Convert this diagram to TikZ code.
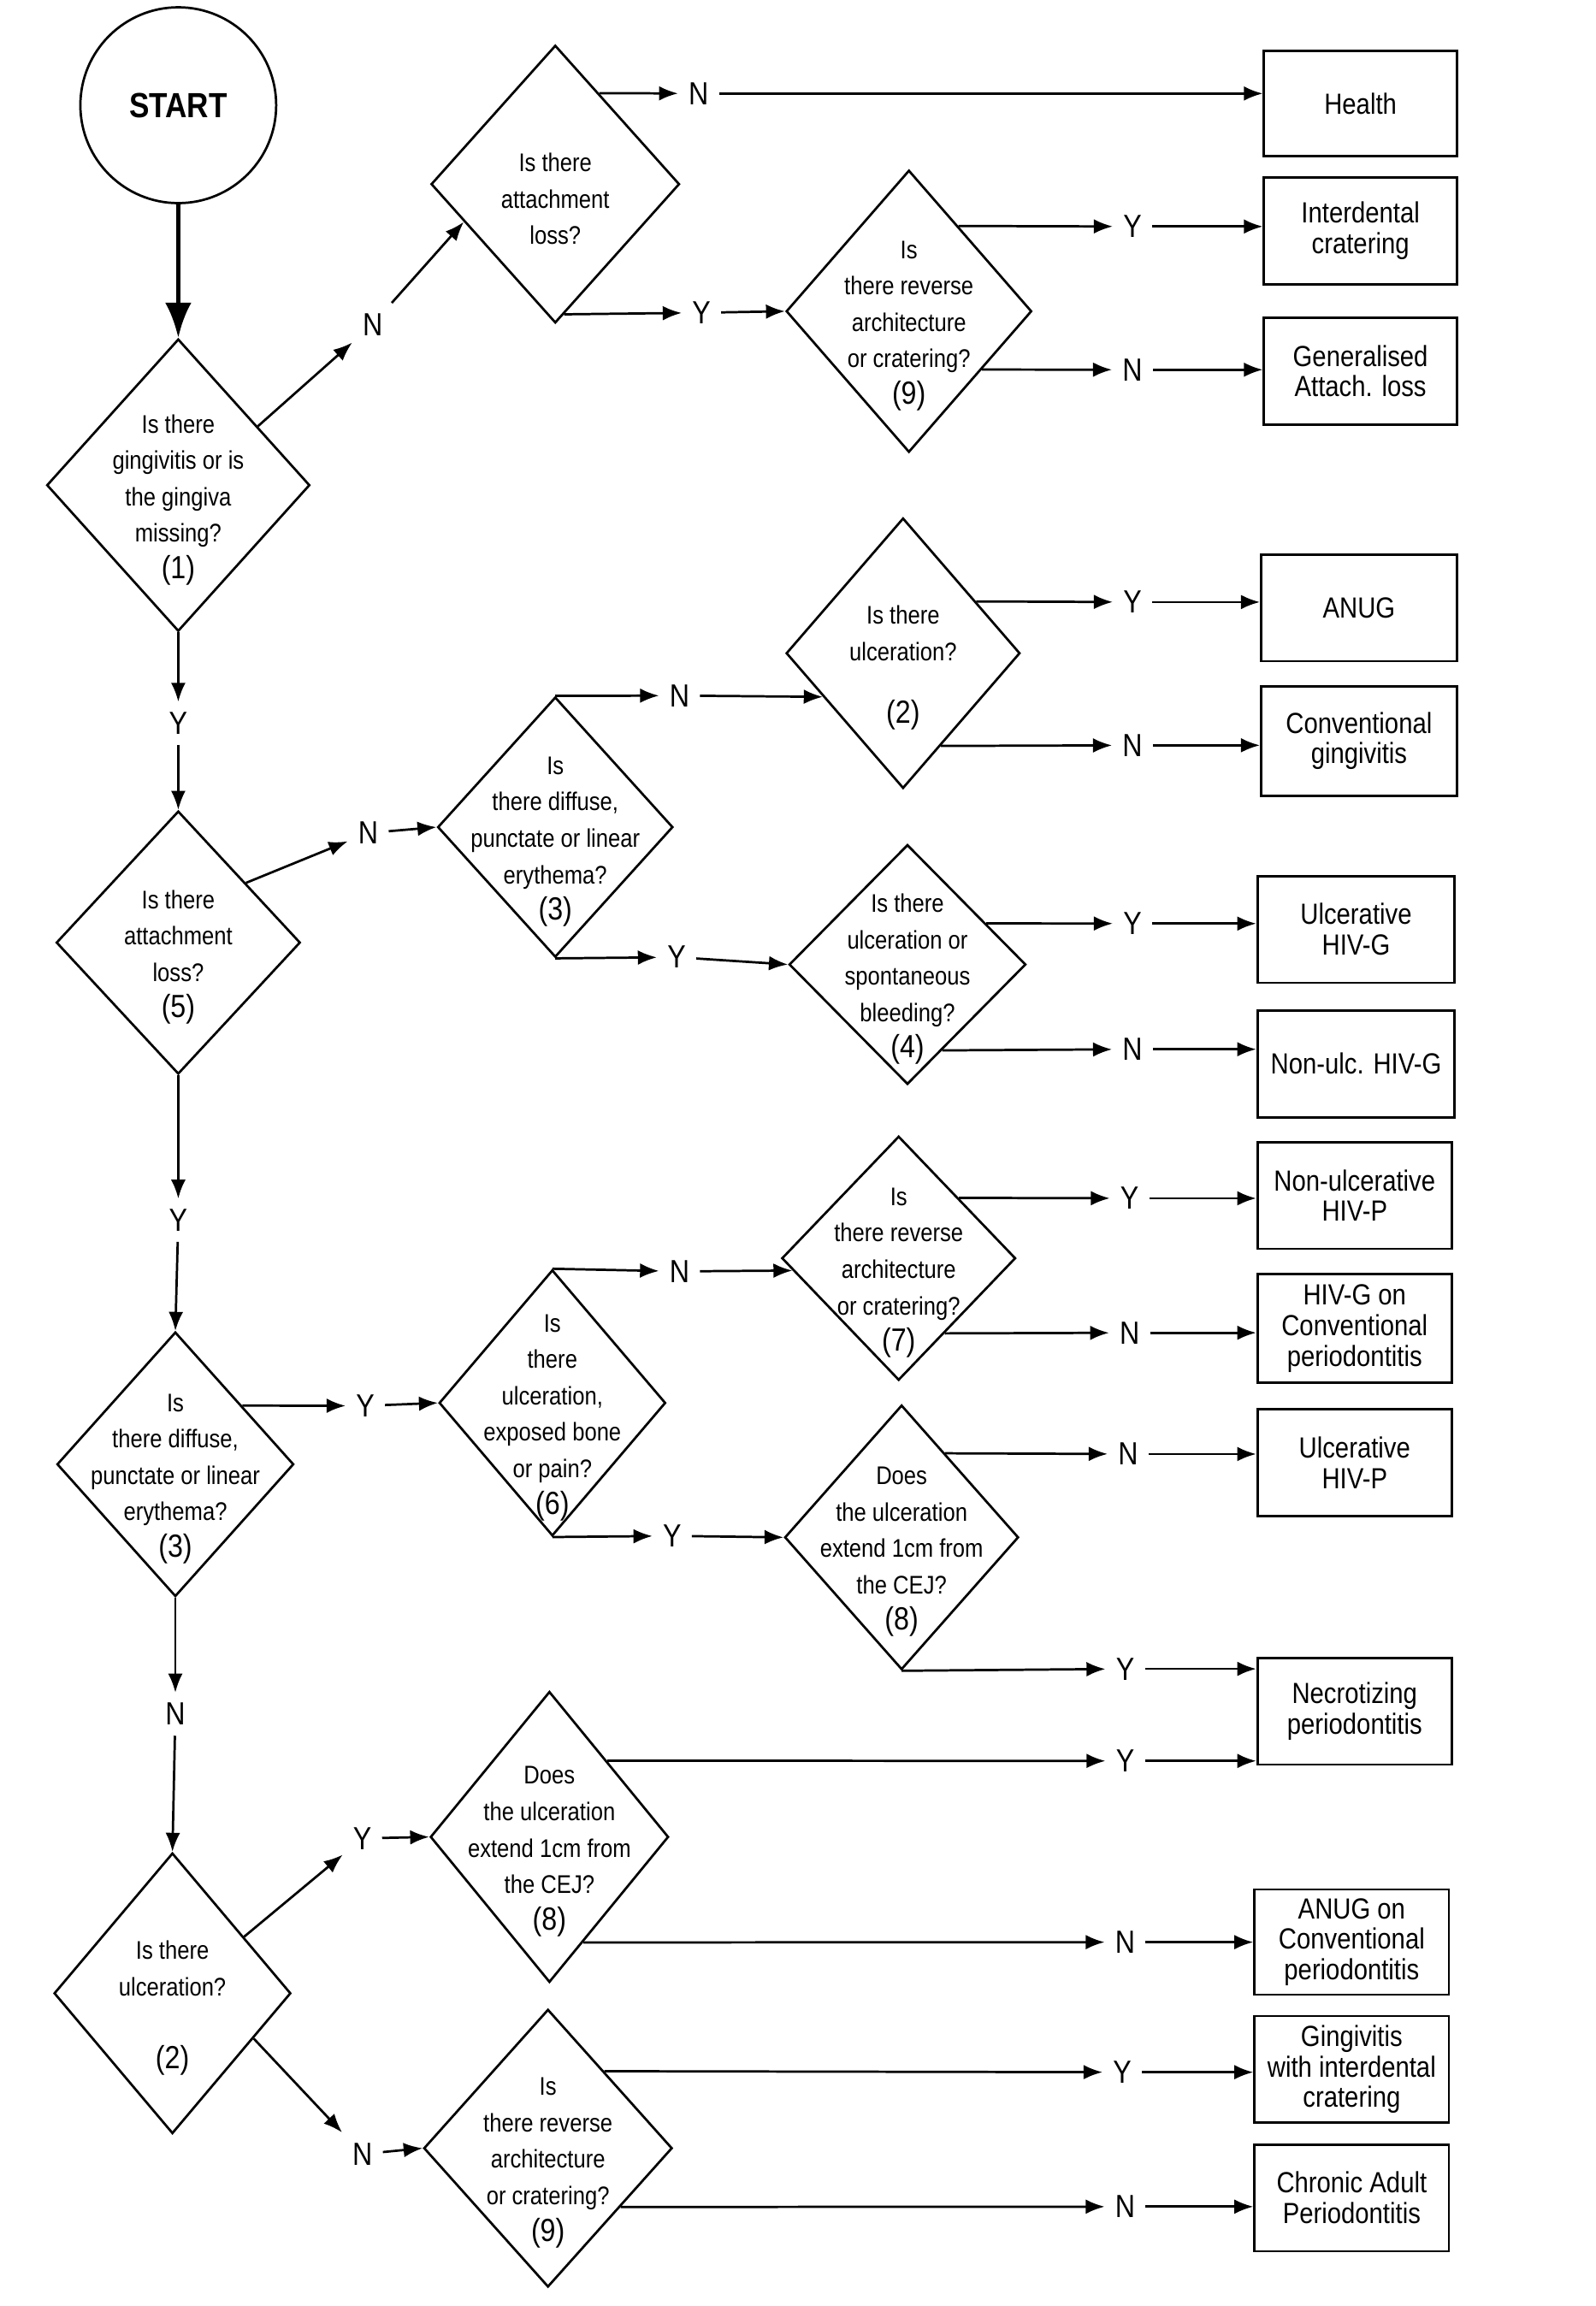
\documentclass[tikz,border=0pt]{standalone}
\usepackage{fontspec}
\setmainfont[FakeStretch=0.86]{Liberation Sans}
\usetikzlibrary{shapes.geometric,arrows.meta,calc}
\begin{document}
\begin{tikzpicture}[x=1bp,y=-1bp,
 dia/.style={draw,diamond,inner sep=0pt,line width=1.6bp},
 dt/.style={align=center,font=\fontsize{17.5}{25}\selectfont},
 box/.style={draw,rectangle,line width=1.6bp,align=center,inner sep=0pt,font=\fontsize{20}{21}\selectfont},
 lab/.style={font=\fontsize{22}{22}\selectfont,inner sep=7bp},
 arr/.style={-{Latex[length=13bp,width=10bp]},line width=1.6bp}]
\useasboundingbox (0,0) rectangle (1092,1578);
\newcommand\nb[1]{{\fontsize{22}{22}\selectfont(#1)}}
\newcommand\dw[5]{\node[dia,minimum width=#3bp,minimum height=#4bp] (#1) at #2 {};\node[dt] at ($(#1)+(0,10)$) {#5};}
\newcommand\bx[4]{\node[box,minimum width=#3bp,minimum height=#4bp] (#1) at #2 {};}
% start
\node[draw,circle,line width=1.6bp,minimum size=134bp,font=\fontsize{24}{24}\selectfont\bfseries] (start) at (122,72) {START};
% diamonds
\dw{d1}{(122,332)}{180}{200}{Is there\\gingivitis or is\\the gingiva\\missing?\\\nb{1}}
\dw{dtop}{(380,126)}{170}{190}{Is there\\attachment\\loss?}
\dw{d9a}{(622,213)}{168}{193}{Is\\there reverse\\architecture\\or cratering?\\\nb{9}}
\dw{d5}{(122,645)}{167}{180}{Is there\\attachment\\loss?\\\nb{5}}
\dw{d3a}{(380,566)}{161}{178}{Is\\there diffuse,\\punctate or linear\\erythema?\\\nb{3}}
\dw{d2a}{(618,447)}{160}{185}{Is there\\ulceration?\\[18bp]\nb{2}}
\dw{d4}{(621,660)}{162}{164}{Is there\\ulceration or\\spontaneous\\bleeding?\\\nb{4}}
\dw{d3b}{(120,1002)}{162}{181}{Is\\there diffuse,\\punctate or linear\\erythema?\\\nb{3}}
\dw{d6}{(378,960)}{155}{182}{Is\\there\\ulceration,\\exposed bone\\or pain?\\\nb{6}}
\dw{d7}{(615,861)}{160}{167}{Is\\there reverse\\architecture\\or cratering?\\\nb{7}}
\dw{d8a}{(617,1052)}{160}{181}{Does\\the ulceration\\extend 1cm from\\the CEJ?\\\nb{8}}
\dw{d2b}{(118,1364)}{162}{192}{Is there\\ulceration?\\[25bp]\nb{2}}
\dw{d8b}{(376,1257)}{163}{199}{Does\\the ulceration\\extend 1cm from\\the CEJ?\\\nb{8}}
\dw{d9b}{(375,1470)}{170}{190}{Is\\there reverse\\architecture\\or cratering?\\\nb{9}}
% boxes
\bx{health}{(931,71)}{132}{72}\node[box,draw=none] at (health) {Health};
\bx{crat}{(931,158)}{132}{73}\node[box,draw=none] at (crat) {Interdental\\cratering};
\bx{gen}{(931,254)}{132}{73}\node[box,draw=none] at (gen) {Generalised\\Attach. loss};
\bx{anug}{(930,416)}{134}{73}\node[box,draw=none] at (anug) {ANUG};
\bx{conv}{(930,507)}{134}{75}\node[box,draw=none] at (conv) {Conventional\\gingivitis};
\bx{uhivg}{(928,636)}{135}{73}\node[box,draw=none] at (uhivg) {Ulcerative\\HIV-G};
\bx{nonulc}{(928,728)}{135}{73}\node[box,draw=none] at (nonulc) {Non-ulc. HIV-G};
\bx{nuhivp}{(927,818)}{133}{73}\node[box,draw=none] at (nuhivp) {Non-ulcerative\\HIV-P};
\bx{hivgon}{(927,909)}{133}{74}\node[box,draw=none] at (hivgon) {HIV-G on\\Conventional\\periodontitis};
\bx{uhivp}{(927,1001)}{133}{73}\node[box,draw=none] at (uhivp) {Ulcerative\\HIV-P};
\bx{necro}{(927,1171)}{133}{73}\node[box,draw=none] at (necro) {Necrotizing\\periodontitis};
\bx{anugon}{(925,1329)}{133}{72}\node[box,draw=none] at (anugon) {ANUG on\\Conventional\\periodontitis};
\bx{gingcr}{(925,1416)}{133}{73}\node[box,draw=none] at (gingcr) {Gingivitis\\with interdental\\cratering};
\bx{chronic}{(925,1504)}{133}{73}\node[box,draw=none] at (chronic) {Chronic Adult\\Periodontitis};
% labels
\node[lab] (nA) at (255,222) {N};
\node[lab] (nT) at (478,64) {N};
\node[lab] (yT) at (480,214) {Y};
\node[lab] (y9a) at (775,155) {Y};
\node[lab] (n9a) at (775,253) {N};
\node[lab] (y1) at (122,495) {Y};
\node[lab] (n5) at (252,570) {N};
\node[lab] (n3a) at (465,476) {N};
\node[lab] (y3a) at (463,655) {Y};
\node[lab] (y2a) at (775,412) {Y};
\node[lab] (n2a) at (775,510) {N};
\node[lab] (y4) at (775,632) {Y};
\node[lab] (n4) at (775,718) {N};
\node[lab] (y5) at (122,835) {Y};
\node[lab] (y3b) at (250,962) {Y};
\node[lab] (n6) at (465,870) {N};
\node[lab] (y6) at (460,1051) {Y};
\node[lab] (y7) at (773,820) {Y};
\node[lab] (n7) at (773,912) {N};
\node[lab] (n8a) at (772,995) {N};
\node[lab] (y8a) at (770,1142) {Y};
\node[lab] (n3b) at (120,1173) {N};
\node[lab] (y2b) at (248,1258) {Y};
\node[lab] (n2b) at (248,1474) {N};
\node[lab] (y8b) at (770,1205) {Y};
\node[lab] (n8b) at (770,1329) {N};
\node[lab] (y9b) at (768,1418) {Y};
\node[lab] (n9b) at (770,1510) {N};
% connectors
\draw[line width=3.2bp,-{Latex[length=24bp,width=18bp]}] (start) -- (d1);
\draw[arr] ($(d1.north)!0.6!(d1.east)$) -- (nA);
\draw[arr] (nA) -- ($(dtop.west)!0.27!(dtop.south)$);
\draw[arr] ($(dtop.north)!0.35!(dtop.east)$) -- (nT);
\draw[arr] (nT) -- (health.west |- nT);
\draw[arr] ($(dtop.east)!0.93!(dtop.south)$) -- (yT);
\draw[arr] (yT) -- (d9a.west);
\draw[arr] ($(d9a.north)!0.40!(d9a.east)$) -- (y9a);
\draw[arr] (y9a) -- (crat.west |- y9a);
\draw[arr] ($(d9a.east)!0.41!(d9a.south)$) -- (n9a);
\draw[arr] (n9a) -- (gen.west |- n9a);
\draw[arr] (d1.south) -- (y1);
\draw[arr] (y1) -- (d5.north);
\draw[arr] ($(d5.north)!0.55!(d5.east)$) -- (n5);
\draw[arr] (n5) -- (d3a.west);
\draw[arr] (d3a.north) -- (n3a);
\draw[arr] (n3a) -- ($(d2a.west)!0.32!(d2a.south)$);
\draw[arr] (d3a.south) -- (y3a);
\draw[arr] (y3a) -- (d4.west);
\draw[arr] ($(d2a.north)!0.62!(d2a.east)$) -- (y2a);
\draw[arr] (y2a) -- (anug.west |- y2a);
\draw[arr] ($(d2a.east)!0.68!(d2a.south)$) -- (n2a);
\draw[arr] (n2a) -- (conv.west |- n2a);
\draw[arr] ($(d4.north)!0.66!(d4.east)$) -- (y4);
\draw[arr] (y4) -- (uhivg.west |- y4);
\draw[arr] ($(d4.east)!0.71!(d4.south)$) -- (n4);
\draw[arr] (n4) -- (nonulc.west |- n4);
\draw[arr] (d5.south) -- (y5);
\draw[arr] (y5) -- (d3b.north);
\draw[arr] ($(d3b.north)!0.56!(d3b.east)$) -- (y3b);
\draw[arr] (y3b) -- (d6.west);
\draw[arr] (d6.north) -- (n6);
\draw[arr] (n6) -- ($(d7.west)!0.1!(d7.south)$);
\draw[arr] (d6.south) -- (y6);
\draw[arr] (y6) -- (d8a.west);
\draw[arr] ($(d7.north)!0.51!(d7.east)$) -- (y7);
\draw[arr] (y7) -- (nuhivp.west |- y7);
\draw[arr] ($(d7.east)!0.61!(d7.south)$) -- (n7);
\draw[arr] (n7) -- (hivgon.west |- n7);
\draw[arr] ($(d8a.north)!0.37!(d8a.east)$) -- (n8a);
\draw[arr] (n8a) -- (uhivp.west |- n8a);
\draw[arr] (d8a.south) -- (y8a);
\draw[arr] (y8a) -- (necro.west |- y8a);
\draw[arr] (d3b.south) -- (n3b);
\draw[arr] (n3b) -- (d2b.north);
\draw[arr] ($(d2b.north)!0.6!(d2b.east)$) -- (y2b);
\draw[arr] (y2b) -- (d8b.west);
\draw[arr] ($(d2b.east)!0.32!(d2b.south)$) -- (n2b);
\draw[arr] (n2b) -- (d9b.west);
\draw[arr] ($(d8b.north)!0.48!(d8b.east)$) -- (y8b);
\draw[arr] (y8b) -- (necro.west |- y8b);
\draw[arr] ($(d8b.east)!0.72!(d8b.south)$) -- (n8b);
\draw[arr] (n8b) -- (anugon.west |- n8b);
\draw[arr] ($(d9b.north)!0.45!(d9b.east)$) -- (y9b);
\draw[arr] (y9b) -- (gingcr.west |- y9b);
\draw[arr] ($(d9b.east)!0.42!(d9b.south)$) -- (n9b);
\draw[arr] (n9b) -- (chronic.west |- n9b);
\end{tikzpicture}
\end{document}
